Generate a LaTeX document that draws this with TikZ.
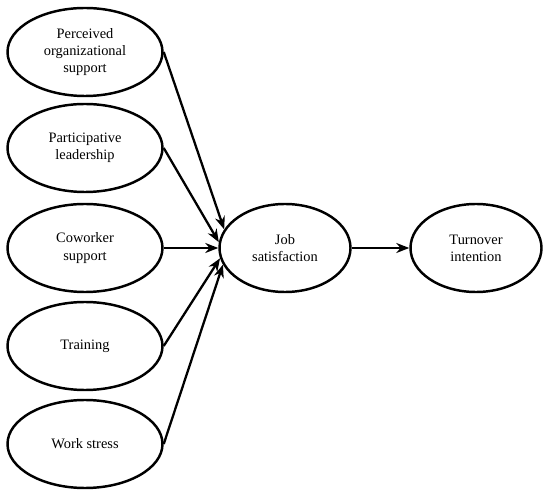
\documentclass[tikz,border=0pt]{standalone}
\usepackage{fontspec}
\setmainfont{Liberation Serif}
\usepackage{tikz}
\usetikzlibrary{shapes.geometric,arrows.meta}

\tikzset{
	factor/.style={draw, ellipse, line width=1.4pt, inner sep=0pt,
		minimum width=3.1cm, minimum height=1.76cm, align=center,
		font=\fontsize{8.2}{9.8}\selectfont},
	outcome/.style={factor, minimum width=2.62cm},
	path/.style={line width=1.3pt, -{Stealth[length=2.6mm, width=2mm]}}
}

\begin{document}
\begin{tikzpicture}
	\useasboundingbox (0,0) rectangle (10.94,-9.88);
	\node [factor] (pos) at (1.70,-1.04) {Perceived\\organizational\\support};
	\node [factor] (pl) at (1.70,-2.96) {Participative\\leadership};
	\node [factor] (cs) at (1.70,-4.96) {Coworker\\support};
	\node [factor] (tr) at (1.70,-6.92) {Training};
	\node [factor] (ws) at (1.70,-8.88) {Work stress};
	\node [outcome] (js) at (5.70,-4.96) {Job\\satisfaction};
	\node [outcome] (ti) at (9.52,-4.96) {Turnover\\intention};
	\draw [path] (pos.east) -- (js.163);
	\draw [path] (pl.east) -- (js.175);
	\draw [path] (cs.east) -- (js.west);
	\draw [path] (tr.east) -- (js.189);
	\draw [path] (ws.east) -- (js.195);
	\draw [path] (js.east) -- (ti.west);
\end{tikzpicture}
\end{document}
